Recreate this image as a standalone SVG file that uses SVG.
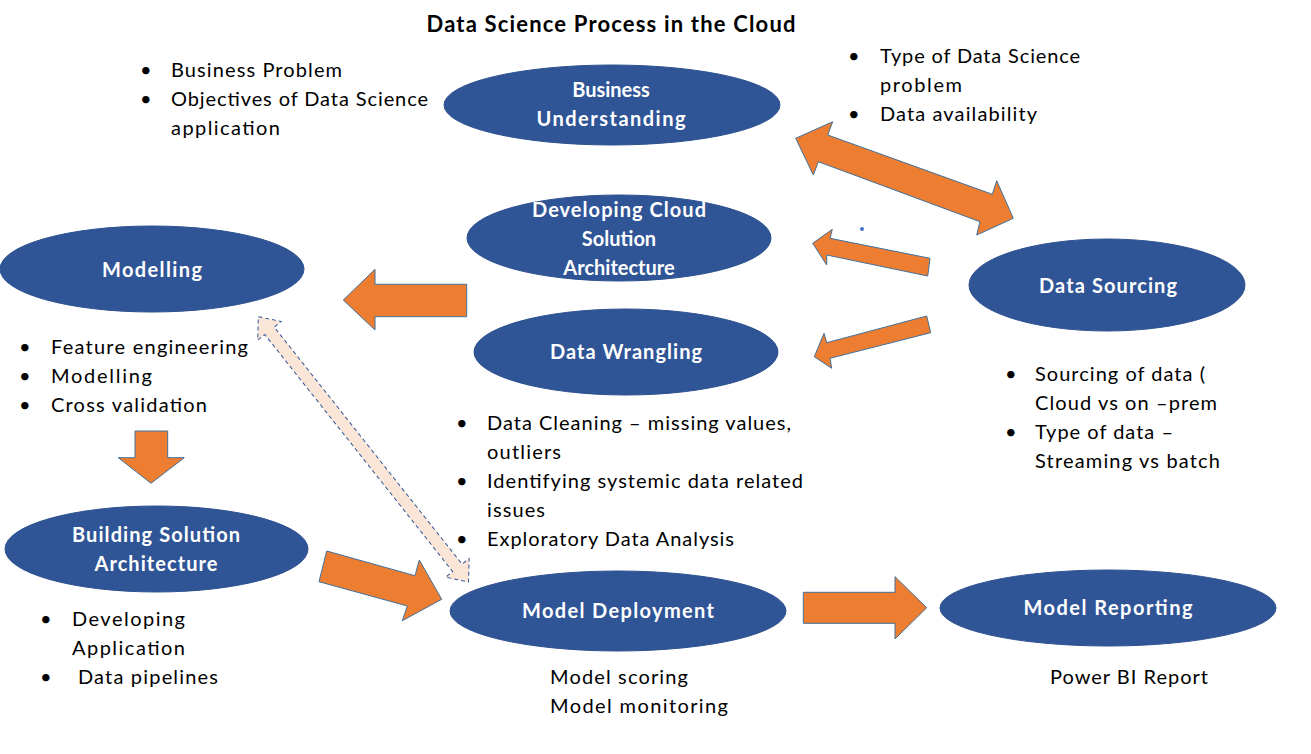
<svg xmlns="http://www.w3.org/2000/svg" width="1311" height="754" viewBox="0 0 1311 754">
<style>
.node ellipse{fill:#2F5597;stroke:#2F528F;stroke-width:1}
.lbl{font-family:Lato,"Open Sans","Liberation Sans",sans-serif;font-weight:bold;font-size:20px;fill:#FFFFFF;text-anchor:middle}
.txt{font-family:Lato,"Open Sans","Liberation Sans",sans-serif;font-size:20px;fill:#000000}
.title{font-family:Lato,"Open Sans","Liberation Sans",sans-serif;font-weight:bold;font-size:22px;fill:#000000;text-anchor:middle}
.arr{fill:#ED7D31;stroke:#41719C;stroke-width:1;stroke-linejoin:miter}
.dash{fill:#FBE5D6;stroke:#2F5597;stroke-width:1;stroke-dasharray:4 3}
</style>
<rect width="1311" height="754" fill="#FFFFFF"/>
<text class="title" x="611" y="32" textLength="369">Data Science Process in the Cloud</text>

<g id="connectors">
<polygon class="arr" points="795.7,138.3 832.7,121.7 827.7,135 992.3,194.3 996.7,180.7 1013.3,218.3 976.7,235 980,221.7 818.3,161.7 813.3,175"/>
<polygon class="arr" points="812.7,243.3 832.3,229.3 830,238.3 930,258.3 927.7,276 826.7,255 826.7,265"/>
<polygon class="arr" points="814.3,356.7 824,333.3 826.7,342.7 926.7,316 930.7,332.7 830,358.3 831.7,368.3"/>
<polygon class="arr" points="343.3,300 375,269.3 375,284.3 466.7,284.3 466.7,316.7 375,316.7 375,330"/>
<polygon class="arr" points="135,431 167.7,431 167.7,457.7 184.3,457.7 151,483.3 118.3,457.7 135,457.7"/>
<polygon class="arr" points="326.7,551 415,575.7 419.3,560 441.7,599.3 402.3,620.7 407.3,606 319,581.7"/>
<polygon class="arr" points="803.3,592.3 895,592.3 895,576.7 926.7,607.7 895,639 895,623.3 803.3,623.3"/>
<polygon class="dash" transform="translate(258.3,316.7) rotate(51.6)" points="0,0 18,-15 18,-6 320.5,-6 320.5,-15 338.5,0 320.5,15 320.5,6 18,6 18,15"/>
<circle cx="862" cy="229" r="2" fill="#4472C4"/>
</g>

<g id="business-understanding" class="node">
<ellipse cx="612" cy="105" rx="168" ry="40"/>
<text class="lbl" x="611" y="97">Business</text>
<text class="lbl" x="611" y="126" textLength="149">Understanding</text>
</g>
<g id="business-notes">
<text class="txt" x="140" y="77">•</text><text class="txt" x="171" y="77" textLength="171">Business Problem</text>
<text class="txt" x="140" y="106">•</text><text class="txt" x="171" y="106" textLength="257">Objectives of Data Science</text>
<text class="txt" x="171" y="135" textLength="109">application</text>
</g>

<g id="data-sourcing" class="node">
<ellipse cx="1107" cy="285" rx="138" ry="46"/>
<text class="lbl" x="1108" y="293" textLength="138">Data Sourcing</text>
</g>
<g id="sourcing-top-notes">
<text class="txt" x="848" y="63">•</text><text class="txt" x="880" y="63" textLength="200">Type of Data Science</text>
<text class="txt" x="880" y="92" textLength="82">problem</text>
<text class="txt" x="848" y="121">•</text><text class="txt" x="880" y="121" textLength="157">Data availability</text>
</g>
<g id="sourcing-notes">
<text class="txt" x="1005" y="381">•</text><text class="txt" x="1035" y="381" textLength="170">Sourcing of data (</text>
<text class="txt" x="1035" y="410" textLength="182">Cloud vs on –prem</text>
<text class="txt" x="1005" y="439">•</text><text class="txt" x="1035" y="439" textLength="138">Type of data –</text>
<text class="txt" x="1035" y="468" textLength="185">Streaming vs batch</text>
</g>

<g id="developing-cloud" class="node">
<ellipse cx="619" cy="238" rx="152" ry="43"/>
<text class="lbl" x="619" y="217" textLength="174">Developing Cloud</text>
<text class="lbl" x="619" y="246">Solution</text>
<text class="lbl" x="619" y="275">Architecture</text>
</g>

<g id="data-wrangling" class="node">
<ellipse cx="626" cy="352" rx="152" ry="43"/>
<text class="lbl" x="626" y="359" textLength="152">Data Wrangling</text>
</g>
<g id="wrangling-notes">
<text class="txt" x="456" y="430">•</text><text class="txt" x="487" y="430" textLength="304">Data Cleaning – missing values,</text>
<text class="txt" x="487" y="459" textLength="74">outliers</text>
<text class="txt" x="456" y="488">•</text><text class="txt" x="487" y="488" textLength="316">Identifying systemic data related</text>
<text class="txt" x="487" y="517" textLength="58">issues</text>
<text class="txt" x="456" y="546">•</text><text class="txt" x="487" y="546" textLength="247">Exploratory Data Analysis</text>
</g>

<g id="modelling" class="node">
<ellipse cx="152" cy="269" rx="152" ry="43"/>
<text class="lbl" x="152" y="277" textLength="100">Modelling</text>
</g>
<g id="modelling-notes">
<text class="txt" x="19" y="354">•</text><text class="txt" x="51" y="354" textLength="197">Feature engineering</text>
<text class="txt" x="19" y="383">•</text><text class="txt" x="51" y="383" textLength="101">Modelling</text>
<text class="txt" x="19" y="412">•</text><text class="txt" x="51" y="412" textLength="156">Cross validation</text>
</g>

<g id="building-solution" class="node">
<ellipse cx="156.5" cy="549" rx="151.5" ry="43"/>
<text class="lbl" x="156" y="542" textLength="168">Building Solution</text>
<text class="lbl" x="156" y="571" textLength="123">Architecture</text>
</g>
<g id="building-notes">
<text class="txt" x="40" y="626">•</text><text class="txt" x="72" y="626" textLength="113">Developing</text>
<text class="txt" x="72" y="655" textLength="113">Application</text>
<text class="txt" x="40" y="684">•</text><text class="txt" x="78" y="684" textLength="140">Data pipelines</text>
</g>

<g id="model-deployment" class="node">
<ellipse cx="618" cy="611" rx="168" ry="40"/>
<text class="lbl" x="618" y="618" textLength="192">Model Deployment</text>
</g>
<g id="deployment-notes">
<text class="txt" x="550" y="684" textLength="138">Model scoring</text>
<text class="txt" x="550" y="713" textLength="178">Model monitoring</text>
</g>

<g id="model-reporting" class="node">
<ellipse cx="1108" cy="608" rx="168" ry="38"/>
<text class="lbl" x="1108" y="615" textLength="169">Model Reporting</text>
</g>
<g id="reporting-notes">
<text class="txt" x="1050" y="684" textLength="158">Power BI Report</text>
</g>
</svg>
